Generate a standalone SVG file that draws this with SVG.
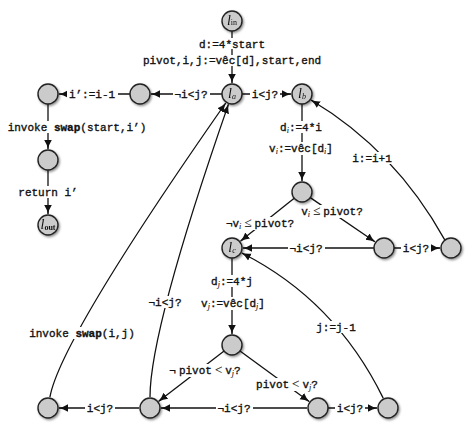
<svg xmlns="http://www.w3.org/2000/svg" width="474" height="432" viewBox="0 0 474 432">
<style>
.e{fill:none;stroke:#111;stroke-width:1.3}
.bg{fill:#fff}
.t{font-family:"Liberation Mono",monospace;font-size:11px;fill:#111;stroke:#111;stroke-width:0.35;text-anchor:middle}
.b{font-weight:bold}
.s{font-family:"Liberation Serif",serif;font-style:italic;font-size:8px;stroke-width:0.1}
.m{font-family:"Liberation Serif",serif;font-size:13px;stroke-width:0.1}
.n{fill:#cbcbcb;stroke:#222;stroke-width:1.4}
.nl{font-family:"Liberation Serif",serif;font-style:italic;font-size:14px;fill:#111;text-anchor:middle}
.ns{font-size:8px}
.nsu{font-size:8px;font-style:normal}
</style>
<defs>
<marker id="ah" viewBox="0 0 10 10" refX="9" refY="5" markerWidth="10" markerHeight="10" markerUnits="userSpaceOnUse" orient="auto">
<path d="M0,1.2 Q4,4 10,5 Q4,6 0,8.8 z" fill="#111"/>
</marker>
<filter id="sh" x="-30%" y="-30%" width="170%" height="170%">
<feDropShadow dx="1.2" dy="1.4" stdDeviation="0.8" flood-color="#000" flood-opacity="0.45"/>
</filter>
</defs>
<rect width="474" height="432" fill="#fff"/>
<g id="connectors">
<g id="e-in-a">
<path class="e" d="M232,31 L232,83" marker-end="url(#ah)"/>
<rect class="bg" x="198" y="38" width="68" height="11"/>
<text class="t" x="232" y="48">d:=4*start</text>
<rect class="bg" x="142" y="55" width="181" height="11"/>
<text class="t" x="232" y="64">pivot,i,j:=vêc[d],start,end</text>
</g>
<g id="e-a-l1">
<path class="e" d="M222,94 L151,94" marker-end="url(#ah)"/>
<rect class="bg" x="173" y="88" width="37" height="12"/>
<text class="t" x="191" y="98">¬i&lt;j?</text>
</g>
<g id="e-l1-l0">
<path class="e" d="M130,94 L59,94" marker-end="url(#ah)"/>
<rect class="bg" x="67" y="88" width="51" height="12"/>
<text class="t" x="92" y="98">i’:=i-1</text>
</g>
<g id="e-l0-n">
<path class="e" d="M48,104 L48,149" marker-end="url(#ah)"/>
<rect class="bg" x="6" y="121" width="142" height="12"/>
<text class="t" x="77" y="131">invoke <tspan class="b">swap</tspan>(start,i’)</text>
</g>
<g id="e-n-out">
<path class="e" d="M48,170 L48,214" marker-end="url(#ah)"/>
<rect class="bg" x="17" y="186" width="62" height="12"/>
<text class="t" x="48" y="196">return i’</text>
</g>
<g id="e-a-b">
<path class="e" d="M242,94 L291,94" marker-end="url(#ah)"/>
<rect class="bg" x="250" y="88" width="30" height="12"/>
<text class="t" x="265" y="98">i&lt;j?</text>
</g>
<g id="e-b-vi">
<path class="e" d="M302,104 L302,181" marker-end="url(#ah)"/>
<rect class="bg" x="277" y="121" width="48" height="12"/>
<text class="t" x="301" y="131">d<tspan class="s" dy="2">i</tspan><tspan dy="-2">:=4*i</tspan></text>
<rect class="bg" x="266" y="142" width="71" height="13"/>
<text class="t" x="301" y="152">v<tspan class="s" dy="2">i</tspan><tspan dy="-2">:=vêc[d</tspan><tspan class="s" dy="2">i</tspan><tspan dy="-2">]</tspan></text>
</g>
<g id="e-vi-rm">
<path class="e" d="M310.3,197.6 L374.9,241.8" marker-end="url(#ah)"/>
<rect class="bg" x="298" y="205" width="69" height="13"/>
<text class="t" x="332" y="215">v<tspan class="s" dy="2">i</tspan><tspan class="m" dx="3" dy="-2">≤</tspan><tspan dx="3">pivot?</tspan></text>
</g>
<g id="e-vi-c">
<path class="e" d="M294.2,198.2 L240.6,241.1" marker-end="url(#ah)"/>
<rect class="bg" x="221" y="217" width="78" height="13"/>
<text class="t" x="260" y="227">¬v<tspan class="s" dy="2">i</tspan><tspan class="m" dx="3" dy="-2">≤</tspan><tspan dx="3">pivot?</tspan></text>
</g>
<g id="e-rm-c">
<path class="e" d="M374,248 L243,248" marker-end="url(#ah)"/>
<rect class="bg" x="288" y="242" width="37" height="12"/>
<text class="t" x="306" y="252">¬i&lt;j?</text>
</g>
<g id="e-rm-rf">
<path class="e" d="M394,248 L440,248" marker-end="url(#ah)"/>
<rect class="bg" x="401" y="242" width="30" height="12"/>
<text class="t" x="416" y="252">i&lt;j?</text>
</g>
<g id="e-rf-b">
<path class="e" d="M444.9,240.1 Q395,150 311,100" marker-end="url(#ah)"/>
<rect class="bg" x="351" y="152" width="43" height="12"/>
<text class="t" x="372" y="162">i:=i+1</text>
</g>
<g id="e-c-vj">
<path class="e" d="M232,258 L232,334" marker-end="url(#ah)"/>
<rect class="bg" x="208" y="275" width="48" height="12"/>
<text class="t" x="232" y="285">d<tspan class="s" dy="2">j</tspan><tspan dy="-2">:=4*j</tspan></text>
<rect class="bg" x="198" y="297" width="71" height="13"/>
<text class="t" x="233" y="307">v<tspan class="s" dy="2">j</tspan><tspan dy="-2">:=vêc[d</tspan><tspan class="s" dy="2">j</tspan><tspan dy="-2">]</tspan></text>
</g>
<g id="e-vj-br">
<path class="e" d="M240,350.9 L309.1,401.5" marker-end="url(#ah)"/>
<rect class="bg" x="251" y="378" width="72" height="13"/>
<text class="t" x="287" y="388">pivot<tspan class="m" dx="3">&lt;</tspan><tspan dx="3">v</tspan><tspan class="s" dy="2">j</tspan><tspan dy="-2">?</tspan></text>
</g>
<g id="e-vj-bm">
<path class="e" d="M224.1,351.1 L158.7,401.3" marker-end="url(#ah)"/>
<rect class="bg" x="165" y="364" width="81" height="13"/>
<text class="t" x="205" y="374">¬<tspan dx="3">pivot</tspan><tspan class="m" dx="3">&lt;</tspan><tspan dx="3">v</tspan><tspan class="s" dy="2">j</tspan><tspan dy="-2">?</tspan></text>
</g>
<g id="e-br-bm">
<path class="e" d="M307,408 L161,408" marker-end="url(#ah)"/>
<rect class="bg" x="216" y="402" width="37" height="12"/>
<text class="t" x="234" y="412">¬i&lt;j?</text>
</g>
<g id="e-br-bf">
<path class="e" d="M328,408 L377,408" marker-end="url(#ah)"/>
<rect class="bg" x="335" y="402" width="30" height="12"/>
<text class="t" x="350" y="412">i&lt;j?</text>
</g>
<g id="e-bf-c">
<path class="e" d="M383.2,398.1 Q335,300 241.8,253" marker-end="url(#ah)"/>
<rect class="bg" x="315" y="321" width="43" height="12"/>
<text class="t" x="336" y="331">j:=j-1</text>
</g>
<g id="e-bm-bl">
<path class="e" d="M139,408 L59,408" marker-end="url(#ah)"/>
<rect class="bg" x="85" y="402" width="30" height="12"/>
<text class="t" x="100" y="412">i&lt;j?</text>
</g>
<g id="e-bm-a">
<path class="e" d="M150,397 Q150,330 228.4,104.4" marker-end="url(#ah)"/>
<rect class="bg" x="147" y="296" width="37" height="12"/>
<text class="t" x="165" y="306">¬i&lt;j?</text>
</g>
<g id="e-bl-a">
<path class="e" d="M49.9,397.2 Q60,340 225.7,103" marker-end="url(#ah)"/>
<rect class="bg" x="27" y="327" width="111" height="12"/>
<text class="t" x="82" y="337">invoke <tspan class="b">swap</tspan>(i,j)</text>
</g>
</g>
<g id="n-in" filter="url(#sh)"><circle class="n" cx="232" cy="21" r="10"/><text class="nl" x="232" y="25">l<tspan class="nsu">in</tspan></text></g>
<g id="n-a" filter="url(#sh)"><circle class="n" cx="232" cy="94" r="10"/><text class="nl" x="232" y="98">l<tspan class="ns" dy="1">a</tspan></text></g>
<g id="n-l1" filter="url(#sh)"><circle class="n" cx="140" cy="94" r="10"/></g>
<g id="n-l0" filter="url(#sh)"><circle class="n" cx="48" cy="94" r="10"/></g>
<g id="n-swap" filter="url(#sh)"><circle class="n" cx="48" cy="160" r="10"/></g>
<g id="n-out" filter="url(#sh)"><circle class="n" cx="48" cy="225" r="10"/><text class="nl" x="48" y="229">l<tspan class="nsu" font-weight="bold" dy="1" font-size="7">out</tspan></text></g>
<g id="n-b" filter="url(#sh)"><circle class="n" cx="302" cy="94" r="10"/><text class="nl" x="302" y="98">l<tspan class="ns" dy="1">b</tspan></text></g>
<g id="n-vi" filter="url(#sh)"><circle class="n" cx="302" cy="192" r="10"/></g>
<g id="n-c" filter="url(#sh)"><circle class="n" cx="232" cy="248" r="10"/><text class="nl" x="232" y="252">l<tspan class="ns" dy="1">c</tspan></text></g>
<g id="n-rm" filter="url(#sh)"><circle class="n" cx="384" cy="248" r="10"/></g>
<g id="n-rf" filter="url(#sh)"><circle class="n" cx="451" cy="248" r="10"/></g>
<g id="n-vj" filter="url(#sh)"><circle class="n" cx="232" cy="345" r="10"/></g>
<g id="n-bl" filter="url(#sh)"><circle class="n" cx="48" cy="408" r="10"/></g>
<g id="n-bm" filter="url(#sh)"><circle class="n" cx="150" cy="408" r="10"/></g>
<g id="n-br" filter="url(#sh)"><circle class="n" cx="318" cy="408" r="10"/></g>
<g id="n-bf" filter="url(#sh)"><circle class="n" cx="388" cy="408" r="10"/></g>
</svg>
